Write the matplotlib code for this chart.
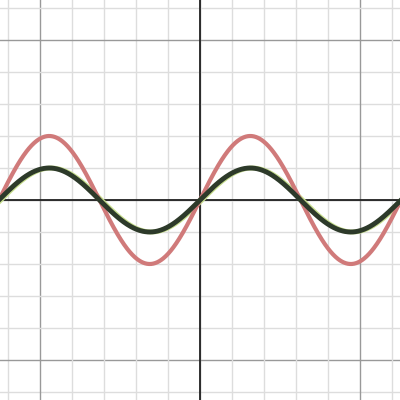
import numpy as np
import matplotlib.pyplot as plt

# curves: y = amp * sin(x - shift)
amps = [1.0, 2.0, 1.0]
shifts = [0.06, 0.0, 0.0]
colors = ['#c7de8f', '#d07a7a', '#2d3a2a']
widths = [3.5, 3.0, 3.5]

xlim = 6.25
fig = plt.figure(figsize=(4, 4), dpi=100)
ax = fig.add_axes([0, 0, 1, 1])
ax.set_xlim(-xlim, xlim)
ax.set_ylim(-xlim, xlim)

for v in range(-6, 7):
    c = '#999999' if v % 5 == 0 else '#dddddd'
    lw = 1.0
    ax.axvline(v, color=c, lw=lw, zorder=0)
    ax.axhline(v, color=c, lw=lw, zorder=0)
ax.axhline(0, color='#222222', lw=1.3, zorder=1)
ax.axvline(0, color='#222222', lw=1.3, zorder=1)

x = np.linspace(-xlim, xlim, 800)
for a, s, c, w in zip(amps, shifts, colors, widths):
    ax.plot(x, a * np.sin(x - s), color=c, lw=w, zorder=2)

ax.axis('off')
fig.savefig('out.png', dpi=100)
